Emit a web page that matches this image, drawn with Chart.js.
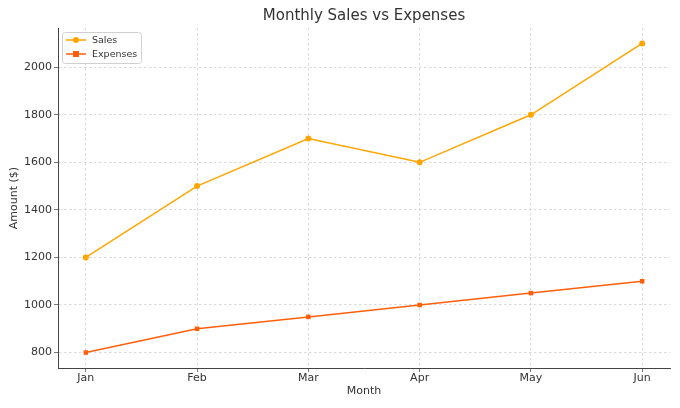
<!DOCTYPE html>
<html>
<head>
<meta charset="utf-8">
<script src="https://cdn.jsdelivr.net/npm/chart.js@4.4.0/dist/chart.umd.min.js"></script>
<style>
  html, body { margin: 0; padding: 0; background: #fff; }
  #wrap { width: 680px; height: 408px; }
</style>
</head>
<body>
<div id="wrap"><canvas id="chart" width="680" height="408"></canvas></div>
<script>
// Chart data
const months = ['Jan', 'Feb', 'Mar', 'Apr', 'May', 'Jun'];
const sales = [1200, 1500, 1700, 1600, 1800, 2100];
const expenses = [800, 900, 950, 1000, 1050, 1100];
const yTicks = [800, 1000, 1200, 1400, 1600, 1800, 2000];

const FONT = "'DejaVu Sans', sans-serif";
const TEXT = '#333333';
const SALES_COLOR = '#ffa500';
const EXP_COLOR = '#ff5f0a';

function toPoints(values) {
    return values.map((v, i) => ({ x: i, y: v }));
}

// Title drawn over the plot area (matplotlib-like centering)
const titlePlugin = {
    id: 'plotTitle',
    afterDraw(chart) {
        const { ctx, chartArea } = chart;
        ctx.save();
        ctx.font = '15px ' + FONT;
        ctx.fillStyle = TEXT;
        ctx.textAlign = 'center';
        ctx.textBaseline = 'middle';
        ctx.fillText('Monthly Sales vs Expenses', (chartArea.left + chartArea.right) / 2, 16.5);
        ctx.restore();
    }
};

// Legend box inside the plot, upper left
const innerLegend = {
    id: 'innerLegend',
    afterDraw(chart) {
        const { ctx, chartArea } = chart;
        const x = chartArea.left + 4, y = chartArea.top + 4;
        const w = 79, h = 31;
        ctx.save();
        ctx.fillStyle = 'rgba(255,255,255,0.8)';
        ctx.strokeStyle = '#d0d0d0';
        ctx.lineWidth = 1;
        ctx.beginPath();
        ctx.roundRect(x + 0.5, y + 0.5, w, h, 3);
        ctx.fill();
        ctx.stroke();

        ctx.font = '9.5px ' + FONT;
        ctx.textBaseline = 'middle';
        chart.data.datasets.forEach((ds, i) => {
            const cy = y + 8 + i * 14;
            ctx.strokeStyle = ds.borderColor;
            ctx.lineWidth = 1.5;
            ctx.beginPath();
            ctx.moveTo(x + 4, cy);
            ctx.lineTo(x + 24, cy);
            ctx.stroke();
            ctx.fillStyle = ds.borderColor;
            if (ds.pointStyle === 'rect') {
                ctx.fillRect(x + 14 - 3, cy - 3, 6, 6);
            } else {
                ctx.beginPath();
                ctx.arc(x + 14, cy, 3, 0, Math.PI * 2);
                ctx.fill();
            }
            ctx.fillStyle = TEXT;
            ctx.fillText(ds.label, x + 30, cy + 0.5);
        });
        ctx.restore();
    }
};

const gridOpts = {
    color: '#cfcfcf',
    lineWidth: 0.8,
    tickColor: '#555',
    tickLength: 4,
    tickBorderDash: []
};

new Chart(document.getElementById('chart'), {
    type: 'line',
    data: {
        datasets: [
            {
                label: 'Sales',
                data: toPoints(sales),
                borderColor: SALES_COLOR,
                backgroundColor: SALES_COLOR,
                borderWidth: 1.5,
                pointStyle: 'circle',
                pointRadius: 3,
                pointBorderWidth: 0,
                tension: 0
            },
            {
                label: 'Expenses',
                data: toPoints(expenses),
                borderColor: EXP_COLOR,
                backgroundColor: EXP_COLOR,
                borderWidth: 1.5,
                pointStyle: 'rect',
                pointRadius: 3.2,
                pointBorderWidth: 0,
                tension: 0
            }
        ]
    },
    options: {
        responsive: false,
        animation: false,
        layout: { padding: { top: 28, right: 10, left: 8, bottom: 10 } },
        plugins: {
            legend: { display: false },
            title: { display: false },
            tooltip: { enabled: false }
        },
        scales: {
            x: {
                type: 'linear',
                min: -0.25,
                max: 5.25,
                afterBuildTicks: (scale) => { scale.ticks = months.map((_, i) => ({ value: i })); },
                afterFit: (scale) => { scale.height = 30; },
                ticks: {
                    callback: (v) => months[v],
                    font: { family: FONT, size: 11 },
                    color: TEXT,
                    padding: 0,
                    maxRotation: 0
                },
                grid: gridOpts,
                border: { display: true, color: '#444', width: 1, dash: [2.5, 2.5] },
                title: {
                    display: true,
                    text: 'Month',
                    font: { family: FONT, size: 11 },
                    color: TEXT,
                    padding: 0
                }
            },
            y: {
                min: 735,
                max: 2165,
                afterBuildTicks: (scale) => { scale.ticks = yTicks.map(v => ({ value: v })); },
                afterFit: (scale) => { scale.width = 50; },
                ticks: {
                    callback: (v) => String(v),
                    font: { family: FONT, size: 11 },
                    color: TEXT,
                    padding: 2
                },
                grid: gridOpts,
                border: { display: true, color: '#444', width: 1, dash: [2.5, 2.5] },
                title: {
                    display: true,
                    text: 'Amount ($)',
                    font: { family: FONT, size: 11 },
                    color: TEXT,
                    padding: 0
                }
            }
        }
    },
    plugins: [titlePlugin, innerLegend]
});
</script>
</body>
</html>
